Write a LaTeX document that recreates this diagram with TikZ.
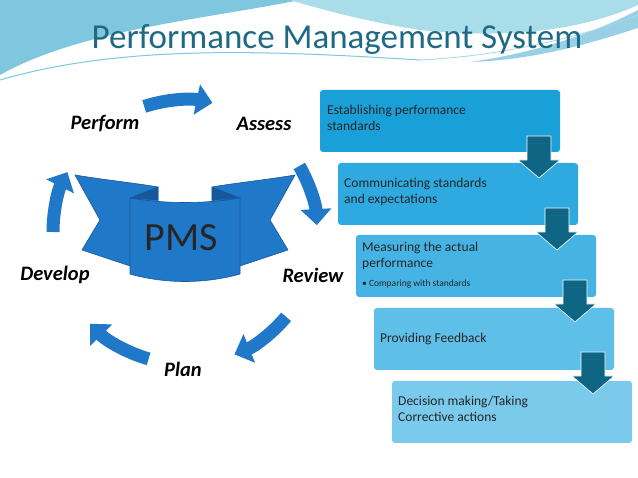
\documentclass[tikz,border=0pt]{standalone}
\usepackage{fontspec}
\setmainfont{Carlito}
\usetikzlibrary{arrows.meta}
\definecolor{ttl}{HTML}{1E6A86}
\definecolor{blu}{HTML}{1F78C8}
\definecolor{bluD}{HTML}{18579A}
\definecolor{bx1}{HTML}{1AA0D8}
\definecolor{bx2}{HTML}{2FAAE0}
\definecolor{bx3}{HTML}{45B4E4}
\definecolor{bx4}{HTML}{5EBFE8}
\definecolor{bx5}{HTML}{7ACAEC}
\definecolor{darr}{HTML}{0E6584}
\definecolor{sky1}{HTML}{7FC6DF}
\definecolor{sky2}{HTML}{A9DDEA}
\tikzset{
  stepbox/.style={rounded corners=3pt, minimum width=240pt, minimum height=62pt, inner sep=0pt},
  btxt/.style={anchor=north west, font=\fontsize{13.5}{15.5}\selectfont, text=black!85, align=left, inner sep=0pt},
  lbl/.style={font=\fontsize{20.5}{23}\selectfont\bfseries\itshape},
  cyc/.style={blu, line width=13pt, -{Triangle[length=16pt,width=30pt]}},
  down/.style={fill=darr, draw=white, line width=0.6pt}
}
\begin{document}
\begin{tikzpicture}[x=1pt,y=-1pt]
\useasboundingbox (0,0) rectangle (638,478);
\fill[white] (0,0) rectangle (638,478);
% header waves
\fill[sky1] (0,0) -- (300,0) .. controls (200,20) and (80,30) .. (0,75) -- cycle;
\fill[sky2] (290,0) -- (638,0) -- (638,5) .. controls (560,40) and (470,35) .. (420,30) .. controls (370,22) and (330,12) .. (290,0) -- cycle;
\fill[sky1!80] (638,10) .. controls (580,40) and (520,55) .. (470,62) .. controls (540,60) and (600,40) .. (638,28) -- cycle;
\draw[sky1, line width=1pt] (0,80) .. controls (120,45) and (260,50) .. (420,60);
\draw[sky1!70, line width=0.8pt] (420,60) .. controls (520,55) and (600,30) .. (638,15);
\node[text=ttl, font=\fontsize{35}{38}\selectfont] (title) at (337,40) {Performance Management System};
% cycle
\coordinate (c) at (185,232);
\draw[cyc] (c) ++(-108:132) arc (-108:-78:132);
\draw[cyc] (c) ++(-30:132) arc (-30:-3:132);
\draw[cyc] (c) ++(40:132) arc (40:68:132);
\draw[cyc] (c) ++(106:132) arc (106:136:132);
\draw[cyc] (c) ++(-180:132) arc (-180:-153:132);
\node[lbl] (perform) at (105,124) {Perform};
\node[lbl] (assess) at (264,124) {Assess};
\node[lbl] (review) at (313,275) {Review};
\node[lbl] (plan) at (183,369) {Plan};
\node[lbl] (develop) at (55,275) {Develop};
% banner
\filldraw[fill=blu, draw=bluD, line width=0.6pt] (75,175) .. controls (105,180) and (135,183) .. (158,187) -- (158,265) -- (130,266) -- (82,250) -- (100,220) -- cycle;
\filldraw[fill=blu, draw=bluD, line width=0.6pt] (295,175) .. controls (265,180) and (235,183) .. (212,187) -- (212,265) -- (240,266) -- (288,250) -- (270,220) -- cycle;
\filldraw[fill=bluD, draw=bluD] (130,198) -- (158,187) -- (158,200) -- cycle;
\filldraw[fill=bluD, draw=bluD] (240,198) -- (212,187) -- (212,200) -- cycle;
\filldraw[fill=blu, draw=bluD, line width=0.6pt] (130,198) .. controls (165,204) and (205,204) .. (240,198) -- (240,274) .. controls (205,284) and (165,284) .. (130,274) -- cycle;
\node[font=\fontsize{40}{44}\selectfont, text=black!85] (pms) at (181,238) {PMS};
% steps
\node[stepbox, fill=bx1] (s1) at (440,121) {};
\node[stepbox, fill=bx2] (s2) at (458,194) {};
\node[stepbox, fill=bx3] (s3) at (476,266) {};
\node[stepbox, fill=bx4] (s4) at (494,339) {};
\node[stepbox, fill=bx5] (s5) at (512,412) {};
\node[btxt] (t1) at (327,105) {Establishing performance\\standards};
\node[btxt] (t2) at (344,178) {Communicating standards\\and expectations};
\node[btxt] (t3) at (362,242) {Measuring the actual\\performance};
\node[btxt, font=\fontsize{9.5}{11}\selectfont] (t3b) at (362,280) {\textbullet\ Comparing with standards};
\node[btxt, anchor=west] (t4) at (380,339) {Providing Feedback};
\node[btxt] (t5) at (398,396) {Decision making/Taking\\Corrective actions};
\foreach \i in {0,1,2,3} {
  \filldraw[down, shift={(18*\i,72*\i)}] (527,136) -- (551,136) -- (551,160) -- (560,160) -- (539,178) -- (518,160) -- (527,160) -- cycle;
}
\end{tikzpicture}
\end{document}
